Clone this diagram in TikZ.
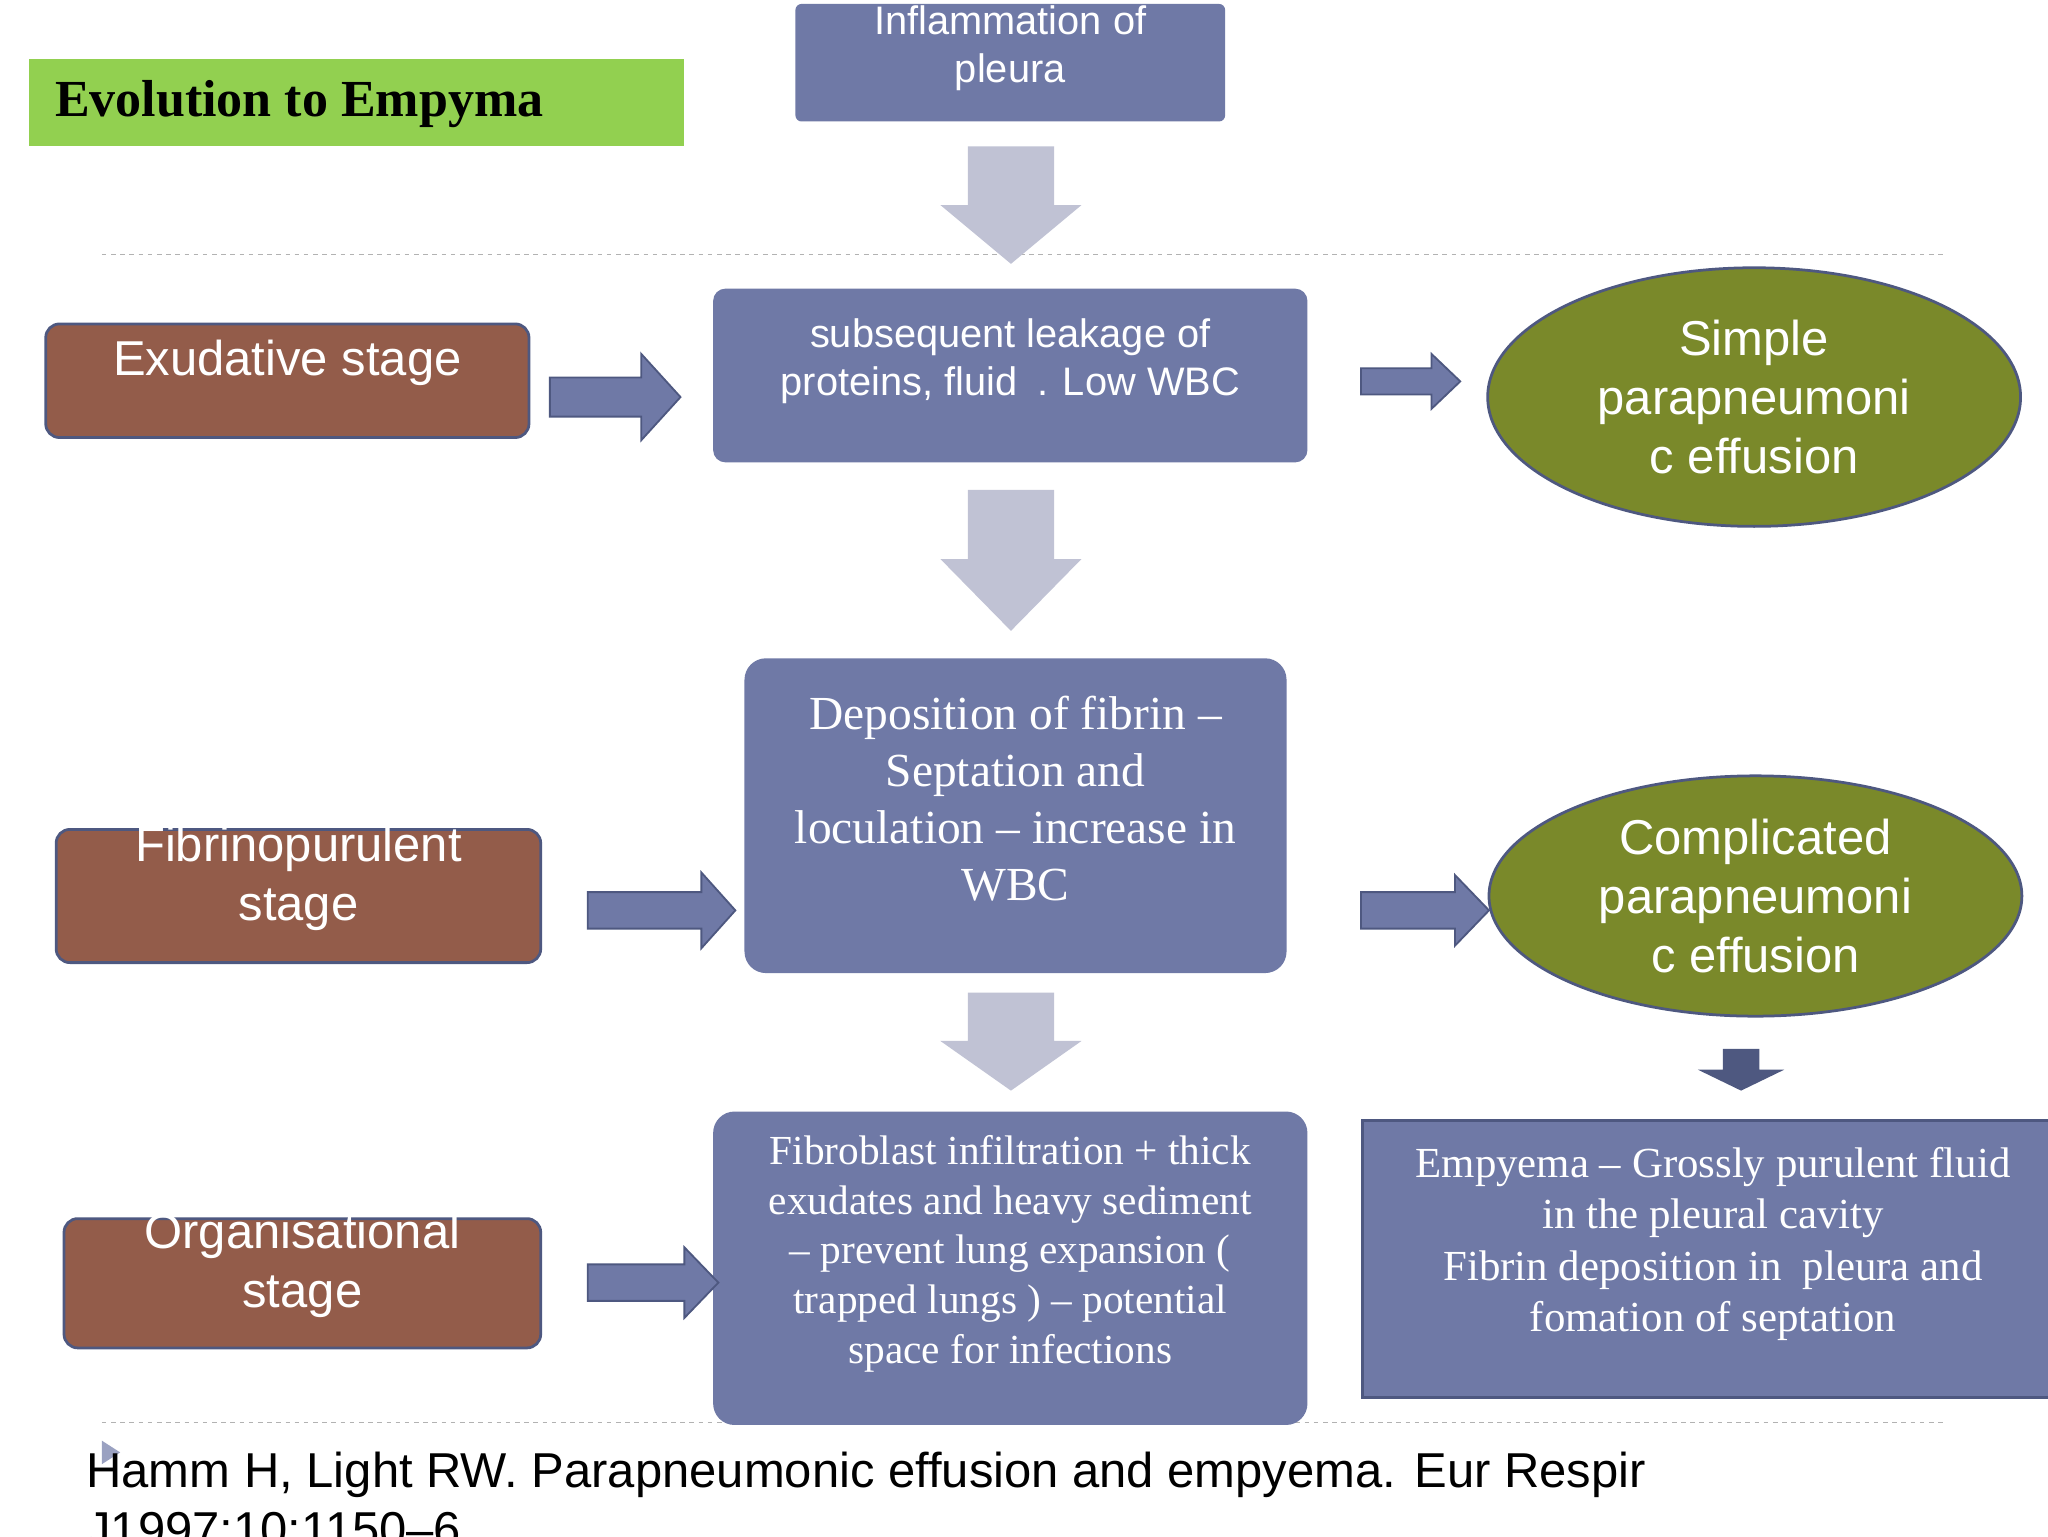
\documentclass[tikz,border=0pt]{standalone}
\usepackage{fontspec}
\setmainfont{Liberation Serif}
\setsansfont{Liberation Sans}
\usetikzlibrary{shapes.geometric,fit}
\definecolor{boxblue}{HTML}{6F79A6}
\definecolor{edgeblue}{HTML}{4E5880}
\definecolor{stagebrown}{HTML}{935C4A}
\definecolor{olivefill}{HTML}{7A892A}
\definecolor{lightarrow}{HTML}{C0C2D4}
\definecolor{titlegreen}{HTML}{92D050}
\newcommand\fs[1]{\fontsize{#1pt}{\dimexpr #1pt*6/5\relax}\selectfont}
% down block arrow: x centre, top, bottom, half body, half head, head length
\newcommand\downblock[7][lightarrow]{%
  \fill[#1] (#2-#5,#3) -- (#2+#5,#3) -- (#2+#5,#4-#7) -- (#2+#6,#4-#7)
    -- (#2,#4) -- (#2-#6,#4-#7) -- (#2-#5,#4-#7) -- cycle;}
% right block arrow: y centre, left, right, half body, half head, head length
\newcommand\rightblock[6]{%
  \filldraw[boxblue,draw=edgeblue,line width=1.2pt] (#2,#1-#4) -- (#3-#6,#1-#4) -- (#3-#6,#1-#5)
    -- (#3,#1) -- (#3-#6,#1+#5) -- (#3-#6,#1+#4) -- (#2,#1+#4) -- cycle;}
\tikzset{
  box/.style={fill=boxblue,text=white,inner sep=0pt,align=center,rounded corners=8pt},
  stage/.style={fill=stagebrown,draw=edgeblue,line width=1.8pt,text=white,inner sep=0pt,
    align=center,rounded corners=9pt,font=\sffamily\fs{32}},
  oval/.style={ellipse,fill=olivefill,draw=edgeblue,line width=1.8pt,text=white,inner sep=0pt,
    align=center,font=\sffamily\fs{32}},
  rule/.style={gray!60,dashed,line width=0.8pt}
}
\begin{document}
\begin{tikzpicture}[x=0.03cm,y=-0.03cm]
  \useasboundingbox (0,0) rectangle (1568,1176);
  \fill[white] (0,0) rectangle (1568,1176);
  % title
  \node[fill=titlegreen,inner sep=0pt,fit={(22,45)(524,112)}] (title) {};
  \node[font=\bfseries\fs{34},anchor=west] (titletext) at (38,80) {Evolution to Empyma};
  % guide lines
  \draw[rule] (78,195) -- (1490,195);
  \draw[rule] (78,1089) -- (1490,1089);
  % centre column
  \node[box,rounded corners=4pt,fit={(609,3)(938,93)},font=\sffamily\fs{26}] (infl) {Inflammation of\\pleura};
  \node[box,fit={(546,221)(1001,354)},font=\sffamily\fs{26}] (leak) {subsequent leakage of\\proteins, fluid\enspace. Low WBC};
  \node[box,rounded corners=14pt,fit={(570,504)(985,745)},font=\fs{31}] (depo)
    {Deposition of fibrin --\\Septation and\\loculation -- increase in\\WBC\\[0.9em]};
  \node[box,rounded corners=14pt,fit={(546,851)(1001,1091)},font=\fs{27}] (fibro)
    {Fibroblast infiltration + thick\\exudates and heavy sediment\\-- prevent lung expansion (\\trapped lungs ) -- potential\\space for infections};
  % stages
  \node[stage,fit={(35,248)(405,335)}] (exud) {Exudative stage};
  \node[stage,fit={(43,635)(414,737)}] (fibrin) {Fibrinopurulent\\stage};
  \node[stage,fit={(49,933)(414,1032)}] (organ) {Organisational\\stage};
  % outcomes
  \node[oval,minimum width=408*0.03cm,minimum height=198*0.03cm] (simple) at (1343,304)
    {Simple\\parapneumoni\\c effusion};
  \node[oval,minimum width=408*0.03cm,minimum height=184*0.03cm] (compl) at (1344,686)
    {Complicated\\parapneumoni\\c effusion};
  \node[fill=boxblue,draw=edgeblue,line width=1.8pt,text=white,inner sep=0pt,align=center,
    font=\fs{28},fit={(1043,858)(1580,1070)}] (empy)
    {Empyema -- Grossly purulent fluid\\in the pleural cavity\\Fibrin deposition in\enspace pleura and\\fomation of septation};
  % arrows
  \downblock{774}{112}{202}{33}{54}{45}
  \downblock{774}{375}{483}{33}{54}{55}
  \downblock{774}{760}{835}{33}{54}{38}
  \downblock[edgeblue]{1333}{803}{835}{14}{33}{16}
  \rightblock{304}{421}{521}{15}{33}{30}
  \rightblock{292}{1042}{1118}{10}{21}{22}
  \rightblock{697}{450}{563}{14}{29}{26}
  \rightblock{697}{1042}{1140}{14}{27}{26}
  \rightblock{982}{450}{550}{14}{27}{26}
  % reference
  \fill[boxblue!70] (78,1103) -- (92,1112) -- (78,1121) -- cycle;
  \node[anchor=west,font=\sffamily\fs{32},align=left] (cite) at (62,1150)
    {Hamm H, Light RW. Parapneumonic effusion and empyema. Eur Respir\\J1997;10:1150--6};
\end{tikzpicture}
\end{document}
